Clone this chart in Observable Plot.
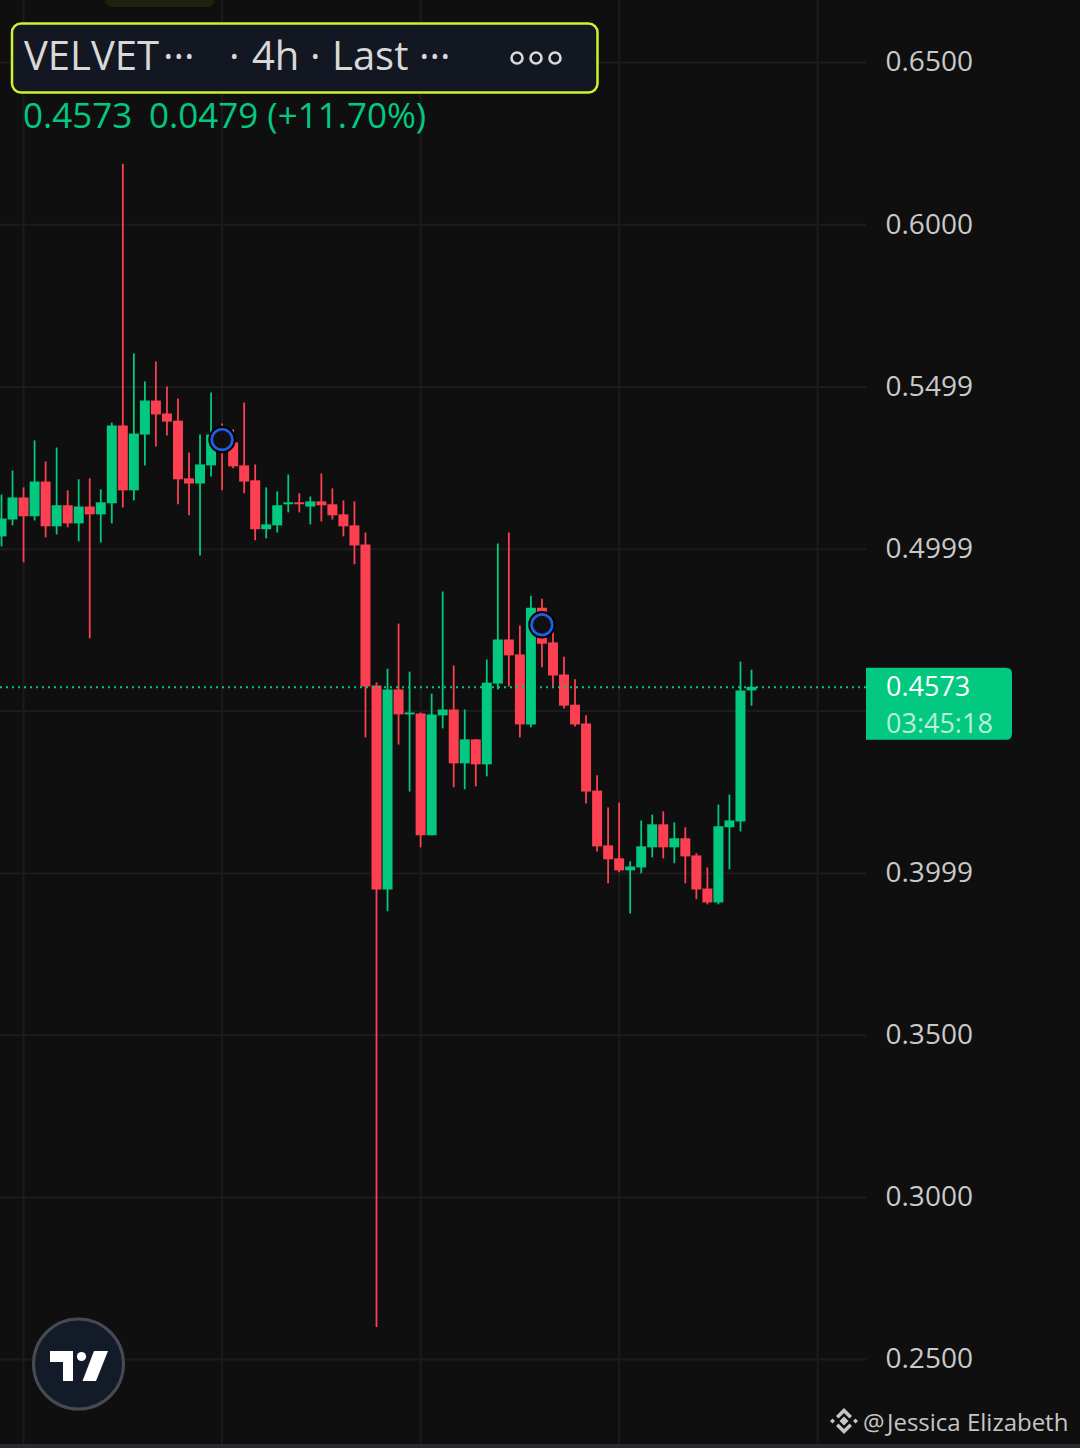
<!DOCTYPE html>
<html>
<head>
<meta charset="utf-8">
<script src="https://cdn.jsdelivr.net/npm/d3@7"></script>
<script src="https://cdn.jsdelivr.net/npm/@observablehq/plot@0.6"></script>
<style>
  html, body { margin:0; padding:0; background:#0f0f0f; width:1080px; height:1448px; overflow:hidden; }
  #wrap { position:relative; width:1080px; height:1448px; }
  #wrap > svg { position:absolute; left:0; top:0; }
  #overlay { pointer-events:none; }
</style>
</head>
<body>
<div id="wrap"></div>
<script>
// ---- data (4h candles) ----
const opens = [
  0.5037, 0.5089, 0.5157, 0.5099, 0.5206, 0.5068, 0.5133, 0.5077, 0.5129, 0.5105,
  0.5139, 0.5379, 0.5179, 0.5351, 0.5456, 0.5416, 0.5394, 0.5216, 0.5200, 0.5256,
  0.5348, 0.5327, 0.5256, 0.5210, 0.5059, 0.5071, 0.5136, 0.5142, 0.5129, 0.5145,
  0.5136, 0.5105, 0.5071, 0.5012, 0.4577, 0.3948, 0.4565, 0.4488, 0.4491, 0.4115,
  0.4485, 0.4503, 0.4337, 0.4411, 0.4334, 0.4583, 0.4719, 0.4673, 0.4457, 0.4817,
  0.4710, 0.4611, 0.4518, 0.4460, 0.4253, 0.4084, 0.4044, 0.4007, 0.4016, 0.4078,
  0.4149, 0.4078, 0.4106, 0.4053, 0.3951, 0.3908, 0.4140, 0.4158, 0.4562
];
const highs = [
  0.5166, 0.5240, 0.5188, 0.5333, 0.5268, 0.5311, 0.5179, 0.5213, 0.5216, 0.5182,
  0.5388, 0.6186, 0.5601, 0.5515, 0.5576, 0.5499, 0.5462, 0.5296, 0.5351, 0.5481,
  0.5385, 0.5367, 0.5450, 0.5259, 0.5188, 0.5176, 0.5228, 0.5170, 0.5160, 0.5231,
  0.5185, 0.5148, 0.5145, 0.5049, 0.4586, 0.4629, 0.4768, 0.4620, 0.4494, 0.4552,
  0.4867, 0.4639, 0.4503, 0.4411, 0.4657, 0.5015, 0.5049, 0.4762, 0.4854, 0.4845,
  0.4747, 0.4666, 0.4596, 0.4485, 0.4300, 0.4201, 0.4216, 0.4035, 0.4161, 0.4179,
  0.4189, 0.4155, 0.4140, 0.4060, 0.4016, 0.4210, 0.4241, 0.4651, 0.4626
];
const lows = [
  0.5006, 0.5071, 0.4957, 0.5086, 0.5034, 0.5043, 0.5065, 0.5022, 0.4723, 0.5018,
  0.5077, 0.5126, 0.5148, 0.5256, 0.5314, 0.5348, 0.5136, 0.5102, 0.4978, 0.5222,
  0.5179, 0.5247, 0.5170, 0.5025, 0.5031, 0.5049, 0.5111, 0.5111, 0.5074, 0.5083,
  0.5089, 0.5037, 0.4951, 0.4417, 0.2599, 0.3881, 0.4395, 0.4250, 0.4078, 0.4115,
  0.4445, 0.4263, 0.4257, 0.4266, 0.4297, 0.4565, 0.4574, 0.4417, 0.4448, 0.4633,
  0.4571, 0.4506, 0.4451, 0.4213, 0.4065, 0.3967, 0.4001, 0.3874, 0.3998, 0.4047,
  0.4044, 0.4029, 0.3967, 0.3918, 0.3902, 0.3902, 0.4010, 0.4127, 0.4515
];
const closes = [
  0.5092, 0.5157, 0.5099, 0.5206, 0.5068, 0.5133, 0.5077, 0.5129, 0.5105, 0.5142,
  0.5379, 0.5179, 0.5354, 0.5456, 0.5413, 0.5391, 0.5213, 0.5200, 0.5259, 0.5351,
  0.5317, 0.5253, 0.5206, 0.5059, 0.5074, 0.5133, 0.5142, 0.5136, 0.5145, 0.5133,
  0.5102, 0.5068, 0.5009, 0.4574, 0.3948, 0.4565, 0.4488, 0.4494, 0.4115, 0.4488,
  0.4503, 0.4337, 0.4411, 0.4334, 0.4586, 0.4719, 0.4670, 0.4457, 0.4817, 0.4706,
  0.4608, 0.4515, 0.4457, 0.4250, 0.4081, 0.4041, 0.4007, 0.4019, 0.4081, 0.4149,
  0.4078, 0.4106, 0.4050, 0.3948, 0.3908, 0.4143, 0.4161, 0.4562, 0.4573
];
const tickValues = [0.65, 0.60, 0.5499, 0.4999, 0.45, 0.3999, 0.35, 0.30, 0.25];
const tickLabels = ["0.6500", "0.6000", "0.5499", "0.4999", "0.4500", "0.3999", "0.3500", "0.3000", "0.2500"];
const timeGridIndex = [2, 20, 38, 56, 74];
const markerIndex = [20, 49];
const markerPrice = [0.5337, 0.4766];
const lastPrice = 0.4573;
const lastPriceLabel = "0.4573";
const countdown = "03:45:18";
const headerSymbol = "VELVET";
const headerInterval = "4h";
const headerType = "Last";
const headerValues = ["0.4573", "0.0479 (+11.70%)"];
const watermark = "@Jessica Elizabeth";

const GREEN = "#03c880";
const RED = "#fc3f51";
const GRID = "#1c1c1c";
const FONT = "'Open Sans', 'Noto Sans', sans-serif";

const candles = opens.map((o, i) => ({
  i, open: o, high: highs[i], low: lows[i], close: closes[i],
  color: closes[i] >= o ? GREEN : RED
}));
const markers = markerIndex.map((i, k) => ({i, price: markerPrice[k]}));
// the tick label sitting under the last-price tag is hidden by it
const shownTicks = tickValues.filter(v => Math.abs(v - lastPrice) > 0.012);

function priceBox(index, scales, values, dimensions) {
  const y0 = scales.y(lastPrice);
  const x0 = dimensions.width - dimensions.marginRight;
  const w = 146, top = y0 - 19, h = 72, r = 6;
  const g = d3.create("svg:g").attr("text-anchor", "start");
  g.append("path")
    .attr("d", `M${x0},${top} H${x0 + w - r} Q${x0 + w},${top} ${x0 + w},${top + r} V${top + h - r} Q${x0 + w},${top + h} ${x0 + w - r},${top + h} H${x0} Z`)
    .attr("fill", GREEN);
  g.append("text").attr("x", x0 + 20).attr("y", y0 + 9).attr("text-anchor", "start")
    .attr("fill", "#ffffff").attr("font-size", 27).attr("font-family", FONT)
    .text(lastPriceLabel);
  g.append("text").attr("x", x0 + 20).attr("y", y0 + 46).attr("text-anchor", "start")
    .attr("fill", "#ffffff").attr("fill-opacity", 0.72).attr("font-size", 27).attr("font-family", FONT)
    .text(countdown);
  return g.node();
}

const chart = Plot.plot({
  width: 1080,
  height: 1448,
  marginLeft: 0,
  marginRight: 214,
  marginTop: 0,
  marginBottom: 0,
  style: { background: "#0f0f0f", fontFamily: FONT, overflow: "visible" },
  x: { domain: [0, 68], range: [1, 751], axis: null },
  y: { domain: [0.25, 0.65], range: [1359, 62], axis: null },
  marks: [
    Plot.ruleY(tickValues, { stroke: GRID, strokeWidth: 2 }),
    Plot.ruleX(timeGridIndex, { stroke: GRID, strokeWidth: 2 }),
    Plot.ruleX(candles, { x: "i", y1: "low", y2: "high", stroke: "color", strokeWidth: 1.8 }),
    Plot.ruleX(candles, { x: "i", y1: "open", y2: "close", stroke: "color", strokeWidth: 10 }),
    Plot.ruleY([lastPrice], { stroke: GREEN, strokeWidth: 2, strokeDasharray: "2,4" }),
    Plot.dot(markers, { x: "i", y: "price", r: 12.5, stroke: "#000000", strokeWidth: 2.5, fill: "none" }),
    Plot.dot(markers, { x: "i", y: "price", r: 10.3, stroke: "#1d5fe6", strokeWidth: 2.6, fill: "#101010" }),
    Plot.text(shownTicks, {
      y: d => d, text: d => tickLabels[tickValues.indexOf(d)], frameAnchor: "right", dx: 19,
      textAnchor: "start", fill: "#c9c9c9", fontSize: 28, fontFamily: FONT
    }),
    priceBox
  ]
});
document.getElementById("wrap").appendChild(chart);

// ---- overlay: header, logo, watermark ----
const ov = d3.select("#wrap").append("svg")
  .attr("id", "overlay").attr("width", 1080).attr("height", 1448)
  .attr("font-family", FONT);

ov.append("rect").attr("x", 105).attr("y", -12).attr("width", 110).attr("height", 19).attr("rx", 8).attr("fill", "#1c240f");
ov.append("rect").attr("x", 12).attr("y", 23.5).attr("width", 585.5).attr("height", 69)
  .attr("rx", 9).attr("fill", "#131722").attr("stroke", "#cdf22e").attr("stroke-width", 2.5);
const HC = "#d8d8d8";
[[24, headerSymbol], [163, "···"], [229, "·"], [252, headerInterval], [310, "·"], [332, headerType], [419, "···"]]
  .forEach(([x, t]) => ov.append("text").attr("x", x).attr("y", 70).attr("font-size", 40).attr("fill", HC).text(t));
[517, 536, 555].forEach(cx => ov.append("circle").attr("cx", cx).attr("cy", 58).attr("r", 5.5)
  .attr("fill", "none").attr("stroke", HC).attr("stroke-width", 2.6));
ov.append("text").attr("x", 23).attr("y", 128).attr("font-size", 35).attr("fill", GREEN).text(headerValues[0]);
ov.append("text").attr("x", 149).attr("y", 128).attr("font-size", 35).attr("fill", GREEN).text(headerValues[1]);

// TradingView logo
ov.append("circle").attr("cx", 78.5).attr("cy", 1364).attr("r", 45).attr("fill", "#131a28").attr("stroke", "#474a52").attr("stroke-width", 3);
ov.append("path").attr("d", "M50,1351 H73 V1381 H63 V1362 H50 Z").attr("fill", "#ffffff");
ov.append("circle").attr("cx", 81.5).attr("cy", 1356.5).attr("r", 4.6).attr("fill", "#ffffff");
ov.append("path").attr("d", "M94,1351 H108 L96,1381 H82.5 Z").attr("fill", "#ffffff");

// Binance mark + watermark
const WC = "#c6c6c6";
ov.append("path").attr("fill", WC).attr("d",
  "M844,1416.5 L848.5,1421 L844,1425.5 L839.5,1421 Z " +
  "M832.5,1418.5 L835,1421 L832.5,1423.5 L830,1421 Z " +
  "M855.5,1418.5 L858,1421 L855.5,1423.5 L853,1421 Z " +
  "M844,1408 L852,1416 L849.5,1418.5 L844,1413 L838.5,1418.5 L836,1416 Z " +
  "M844,1434 L852,1426 L849.5,1423.5 L844,1429 L838.5,1423.5 L836,1426 Z");
ov.append("text").attr("x", 863).attr("y", 1431).attr("font-size", 24).attr("fill", WC).text("@");
ov.append("text").attr("x", 887).attr("y", 1431).attr("font-size", 24).attr("fill", WC).text(watermark.slice(1));
ov.append("rect").attr("x", 0).attr("y", 1444).attr("width", 1080).attr("height", 4).attr("fill", "#282c32");
</script>
</body>
</html>
